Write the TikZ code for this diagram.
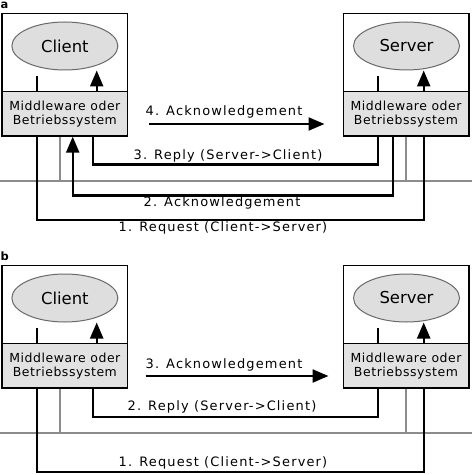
\documentclass[tikz,border=0pt]{standalone}
\usepackage{fontspec}
\setmainfont{DejaVu Sans}
\newfontfamily\spaced[LetterSpace=9]{DejaVu Sans}
\newfontfamily\mwspaced[LetterSpace=4.5]{DejaVu Sans}
\usetikzlibrary{arrows.meta,shapes.geometric}
\definecolor{mwgray}{HTML}{E2E2E2}
\definecolor{ellfill}{HTML}{DEDEDE}
\definecolor{ellgray}{HTML}{6A6A6A}
\definecolor{netgray}{HTML}{8C8C8C}
\tikzset{
 box/.style={draw=black, line width=1.3bp, minimum width=125.7bp, inner sep=0},
 appbox/.style={box, fill=white, minimum height=78.4bp},
 mwbox/.style={box, fill=mwgray, minimum height=44.3bp, align=center, font=\mwspaced\fontsize{12.5}{14}\selectfont},
 proc/.style={ellipse, draw=ellgray, fill=ellfill, line width=1bp, minimum width=106bp, minimum height=48bp, inner sep=0, font=\fontsize{16.5}{18}\selectfont},
 blk/.style={line width=2.3bp, black},
 arr/.style={blk, -{Triangle[width=13bp,length=16bp]}},
 gry/.style={line width=2bp, color=netgray},
 lbl/.style={font=\spaced\fontsize{13}{14}\selectfont, inner sep=0, anchor=base},
 panellbl/.style={font=\bfseries\fontsize{11.5}{13}\selectfont, inner sep=0, anchor=base west}
}
\begin{document}
\begin{tikzpicture}[x=1bp,y=-1bp]
\useasboundingbox (0,0) rectangle (472,475);
% ---------- panel a ----------
\node[panellbl] (pa) at (0.5,9) {a};
\draw[gry] (0,181) -- (472,181);
\node[appbox] (ca) at (64.85,52.5) {};
\node[mwbox] (cm) at (64.85,113.85) {Middleware oder\\Betriebssystem};
\node[proc] (ce) at (64.85,46) {Client};
\node[appbox] (sa) at (406,52.5) {};
\node[mwbox] (sm) at (406,113.85) {Middleware oder\\Betriebssystem};
\node[proc] (se) at (406.5,46) {Server};
\draw[gry] ([xshift=-4.85bp]cm.south) -- ++(0,45);
\draw[gry] (sm.south) -- ++(0,45);
\draw[blk] ([xshift=-28.15bp]cm.north) -- ++(0,-14.7);
\draw[arr] ([xshift=31.85bp]cm.north) -- ([xshift=31.85bp]ce.south);
\draw[blk] ([xshift=-28bp]sm.north) -- ++(0,-14.7);
\draw[arr] ([xshift=17.7bp]sm.north) -- ([xshift=17.2bp]se.south);
\draw[arr] ([xshift=20.3bp,yshift=-10.15bp]cm.east) -- ([xshift=-18bp,yshift=-10.15bp]sm.west);
\draw[blk] ([xshift=-28bp]sm.south) -- ++(0,28) -| ([xshift=28.15bp]cm.south);
\draw[arr] ([xshift=-13bp]sm.south) -- ++(0,59) -| ([xshift=7.85bp]cm.south);
\draw[blk] ([xshift=-28.15bp]cm.south) -- ++(0,83) -| ([xshift=17.7bp]sm.south);
\node[lbl] (l4a) at (224,116) {4. Acknowledgement};
\node[lbl] (l3a) at (228,160) {3. Reply (Server->Client)};
\node[lbl] (l2a) at (222,207) {2. Acknowledgement};
\node[lbl] (l1a) at (223,231.7) {1. Request (Client->Server)};
% ---------- panel b ----------
\begin{scope}[yshift=-252bp]
\node[panellbl] (pb) at (0.5,8.7) {b};
\draw[gry] (0,181) -- (472,181);
\node[appbox] (cab) at (64.85,52.5) {};
\node[mwbox] (cmb) at (64.85,113.85) {Middleware oder\\Betriebssystem};
\node[proc] (ceb) at (64.85,46) {Client};
\node[appbox] (sab) at (406,52.5) {};
\node[mwbox] (smb) at (406,113.85) {Middleware oder\\Betriebssystem};
\node[proc] (seb) at (406.5,46) {Server};
\draw[gry] ([xshift=-4.85bp]cmb.south) -- ++(0,45);
\draw[gry] (smb.south) -- ++(0,45);
\draw[blk] ([xshift=-28.15bp]cmb.north) -- ++(0,-14.7);
\draw[arr] ([xshift=31.85bp]cmb.north) -- ([xshift=31.85bp]ceb.south);
\draw[blk] ([xshift=-28bp]smb.north) -- ++(0,-14.7);
\draw[arr] ([xshift=17.7bp]smb.north) -- ([xshift=17.2bp]seb.south);
\draw[arr] ([xshift=17.3bp,yshift=-10.15bp]cmb.east) -- ([xshift=-14bp,yshift=-10.15bp]smb.west);
\draw[blk] ([xshift=-28bp]smb.south) -- ++(0,28) -| ([xshift=28.15bp]cmb.south);
\draw[blk] ([xshift=-28.15bp]cmb.south) -- ++(0,83) -| ([xshift=17.7bp]smb.south);
\node[lbl] (l3b) at (224,116) {3. Acknowledgement};
\node[lbl] (l2b) at (222,158) {2. Reply (Server->Client)};
\node[lbl] (l1b) at (223,214) {1. Request (Client->Server)};
\end{scope}
\end{tikzpicture}
\end{document}
